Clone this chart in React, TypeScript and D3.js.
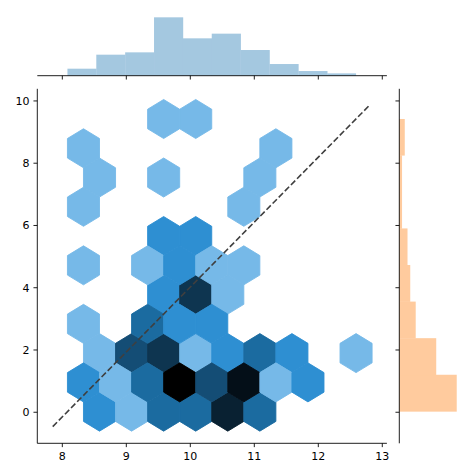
import React from "react";
import * as d3 from "d3";

// ---------- data ----------
const xTicks = [8, 9, 10, 11, 12, 13];
const yTicks = [0, 2, 4, 6, 8, 10];

// hexbin grid extent (data units) and grid size
const hexXMin = 8.08;
const hexXMax = 12.59;
const hexYMin = 0.02;
const hexYMax = 9.42;
const gridNx = 9;
const gridNy = 5;

// hex cells: lattice (1 = corner lattice, 2 = offset lattice), column, row, count
const hexLattice = [
  1, 1, 1, 1, 1, 1,
  1, 1, 1, 1, 1, 1, 1, 1,
  1, 1, 1,
  1, 1,
  1, 1, 1,
  1, 1,
  2, 2, 2, 2, 2, 2, 2, 2,
  2, 2, 2, 2,
  2, 2, 2, 2, 2,
  2, 2,
  2, 2,
];
const hexCol = [
  1, 2, 3, 4, 5, 6,
  1, 2, 3, 4, 5, 6, 7, 9,
  3, 4, 5,
  3, 4,
  1, 3, 6,
  3, 4,
  0, 1, 2, 3, 4, 5, 6, 7,
  0, 2, 3, 4,
  0, 2, 3, 4, 5,
  0, 5,
  0, 6,
];
const hexRow = [
  0, 0, 0, 0, 0, 0,
  1, 1, 1, 1, 1, 1, 1, 1,
  2, 2, 2,
  3, 3,
  4, 4, 4,
  5, 5,
  0, 0, 0, 0, 0, 0, 0, 0,
  1, 1, 1, 1,
  2, 2, 2, 2, 2,
  3, 3,
  4, 4,
];
const hexCount = [
  2, 1, 3, 3, 6, 3,
  1, 4, 5, 1, 2, 3, 2, 1,
  2, 5, 1,
  2, 2,
  1, 1, 1,
  1, 1,
  2, 1, 3, 8, 4, 7, 1, 2,
  1, 3, 2, 2,
  1, 1, 2, 1, 1,
  1, 1,
  1, 1,
];

// top marginal histogram (x)
const xBinEdges = [8.08, 8.531, 8.982, 9.433, 9.884, 10.335, 10.786, 11.237, 11.688, 12.139, 12.59];
const xBinCounts = [3, 9, 10, 25, 16, 18, 11, 5, 2, 1];

// right marginal histogram (y)
const yBinEdges = [0.02, 1.195, 2.37, 3.545, 4.72, 5.895, 7.07, 8.245, 9.42];
const yBinCounts = [42, 27, 12, 8, 6, 2, 2, 4];

// reference dashed line (data units)
const lineX = [7.85, 12.79];
const lineY = [-0.46, 9.84];

// ---------- layout ----------
const W = 474;
const H = 474;
const mainLeft = 37.3;
const mainRight = 386.9;
const mainTop = 88.8;
const mainBottom = 443.3;
const margXBase = 75.7;
const margXTop = 14.4;
const margYBase = 399.3;
const margYRight = 459.6;
const tickLen = 3.84;
const tickPad = 3.84;
const font = "'DejaVu Sans', sans-serif";

export default function App() {
  const x = d3.scaleLinear().domain([7.609, 13.072]).range([mainLeft, mainRight]);
  const y = d3.scaleLinear().domain([-0.997, 10.39]).range([mainBottom, mainTop]);

  const hx = d3
    .scaleLinear()
    .domain([0, (d3.max(xBinCounts) as number) * 1.05])
    .range([margXBase, margXTop]);
  const hy = d3
    .scaleLinear()
    .domain([0, (d3.max(yBinCounts) as number) * 1.05])
    .range([margYBase, margYRight]);

  // colormap: C0 hue, lightness from 1 to 0 (12 stops)
  const base = d3.hsl("#1f77b4");
  const stops = d3.range(12).map((k) => d3.hsl(base.h, base.s, 1 - k / 11).formatHex());
  const interp = d3.piecewise(d3.interpolateRgb, stops);
  const color = d3
    .scaleSequentialSymlog(interp)
    .domain([0, d3.max(hexCount) as number])
    .constant(1);

  const sx = (hexXMax - hexXMin) / gridNx;
  const sy = (hexYMax - hexYMin) / gridNy;
  const hexOffsets: [number, number][] = [
    [0.5, -0.5],
    [0.5, 0.5],
    [0, 1],
    [-0.5, 0.5],
    [-0.5, -0.5],
    [0, -1],
  ];
  const line = d3
    .line<[number, number]>()
    .x((d) => x(d[0]))
    .y((d) => y(d[1]));

  const hexes = hexCount.map((c, k) => {
    const off = hexLattice[k] === 2 ? 0.5 : 0;
    const cx = hexXMin + (hexCol[k] + off) * sx;
    const cy = hexYMin + (hexRow[k] + off) * sy;
    const pts = hexOffsets.map(([a, b]) => [cx + a * sx, cy + (b * sy) / 3] as [number, number]);
    const d = line(pts) + "Z";
    const fill = color(c);
    return <path key={"h" + k} d={d} fill={fill} stroke={fill} strokeWidth={0.9} strokeLinejoin="miter" />;
  });

  return (
    <svg
      width={W}
      height={H}
      viewBox={`0 0 ${W} ${H}`}
      style={{ position: "absolute", left: 0, top: 0, display: "block", background: "#fff" }}
    >
      <rect x={0} y={0} width={W} height={H} fill="#fff" />

      {/* top marginal histogram */}
      <g opacity={0.4}>
        {xBinCounts.map((c, k) => (
          <rect
            key={"xb" + k}
            x={x(xBinEdges[k])}
            y={hx(c)}
            width={x(xBinEdges[k + 1]) - x(xBinEdges[k]) + (k < xBinCounts.length - 1 ? 0.3 : 0)}
            height={hx(0) - hx(c)}
            fill="#1f77b4"
          />
        ))}
      </g>
      <line x1={mainLeft} x2={mainRight} y1={margXBase} y2={margXBase} stroke="#000" strokeWidth={0.88} />
      {xTicks.map((t) => (
        <line key={"mxt" + t} x1={x(t)} x2={x(t)} y1={margXBase} y2={margXBase + tickLen} stroke="#000" strokeWidth={0.88} />
      ))}

      {/* right marginal histogram */}
      <g opacity={0.4}>
        {yBinCounts.map((c, k) => (
          <rect
            key={"yb" + k}
            x={hy(0)}
            y={y(yBinEdges[k + 1]) - (k < yBinCounts.length - 1 ? 0.3 : 0)}
            width={hy(c) - hy(0)}
            height={y(yBinEdges[k]) - y(yBinEdges[k + 1]) + (k < yBinCounts.length - 1 ? 0.3 : 0)}
            fill="#ff7f0e"
          />
        ))}
      </g>
      <line x1={margYBase} x2={margYBase} y1={mainTop} y2={mainBottom} stroke="#000" strokeWidth={0.88} />
      {yTicks.map((t) => (
        <line key={"myt" + t} x1={margYBase - tickLen} x2={margYBase} y1={y(t)} y2={y(t)} stroke="#000" strokeWidth={0.88} />
      ))}

      {/* hexbin */}
      <g>{hexes}</g>

      {/* dashed line */}
      <path
        d={line([
          [lineX[0], lineY[0]],
          [lineX[1], lineY[1]],
        ]) as string}
        fill="none"
        stroke="#3f3f3f"
        strokeWidth={1.6}
        strokeDasharray="6.1,2.6"
      />

      {/* main axes spines */}
      <line x1={mainLeft} x2={mainLeft} y1={mainTop} y2={mainBottom} stroke="#000" strokeWidth={0.88} />
      <line x1={mainLeft} x2={mainRight} y1={mainBottom} y2={mainBottom} stroke="#000" strokeWidth={0.88} />
      {xTicks.map((t) => (
        <g key={"xt" + t}>
          <line x1={x(t)} x2={x(t)} y1={mainBottom} y2={mainBottom + tickLen} stroke="#000" strokeWidth={0.88} />
          <text x={x(t)} y={mainBottom + tickLen + tickPad + 8.6} textAnchor="middle" fontFamily={font} fontSize={11} fill="#000">
            {t}
          </text>
        </g>
      ))}
      {yTicks.map((t) => (
        <g key={"yt" + t}>
          <line x1={mainLeft - tickLen} x2={mainLeft} y1={y(t)} y2={y(t)} stroke="#000" strokeWidth={0.88} />
          <text x={mainLeft - tickLen - tickPad} y={y(t) + 4} textAnchor="end" fontFamily={font} fontSize={11} fill="#000">
            {t}
          </text>
        </g>
      ))}
    </svg>
  );
}
